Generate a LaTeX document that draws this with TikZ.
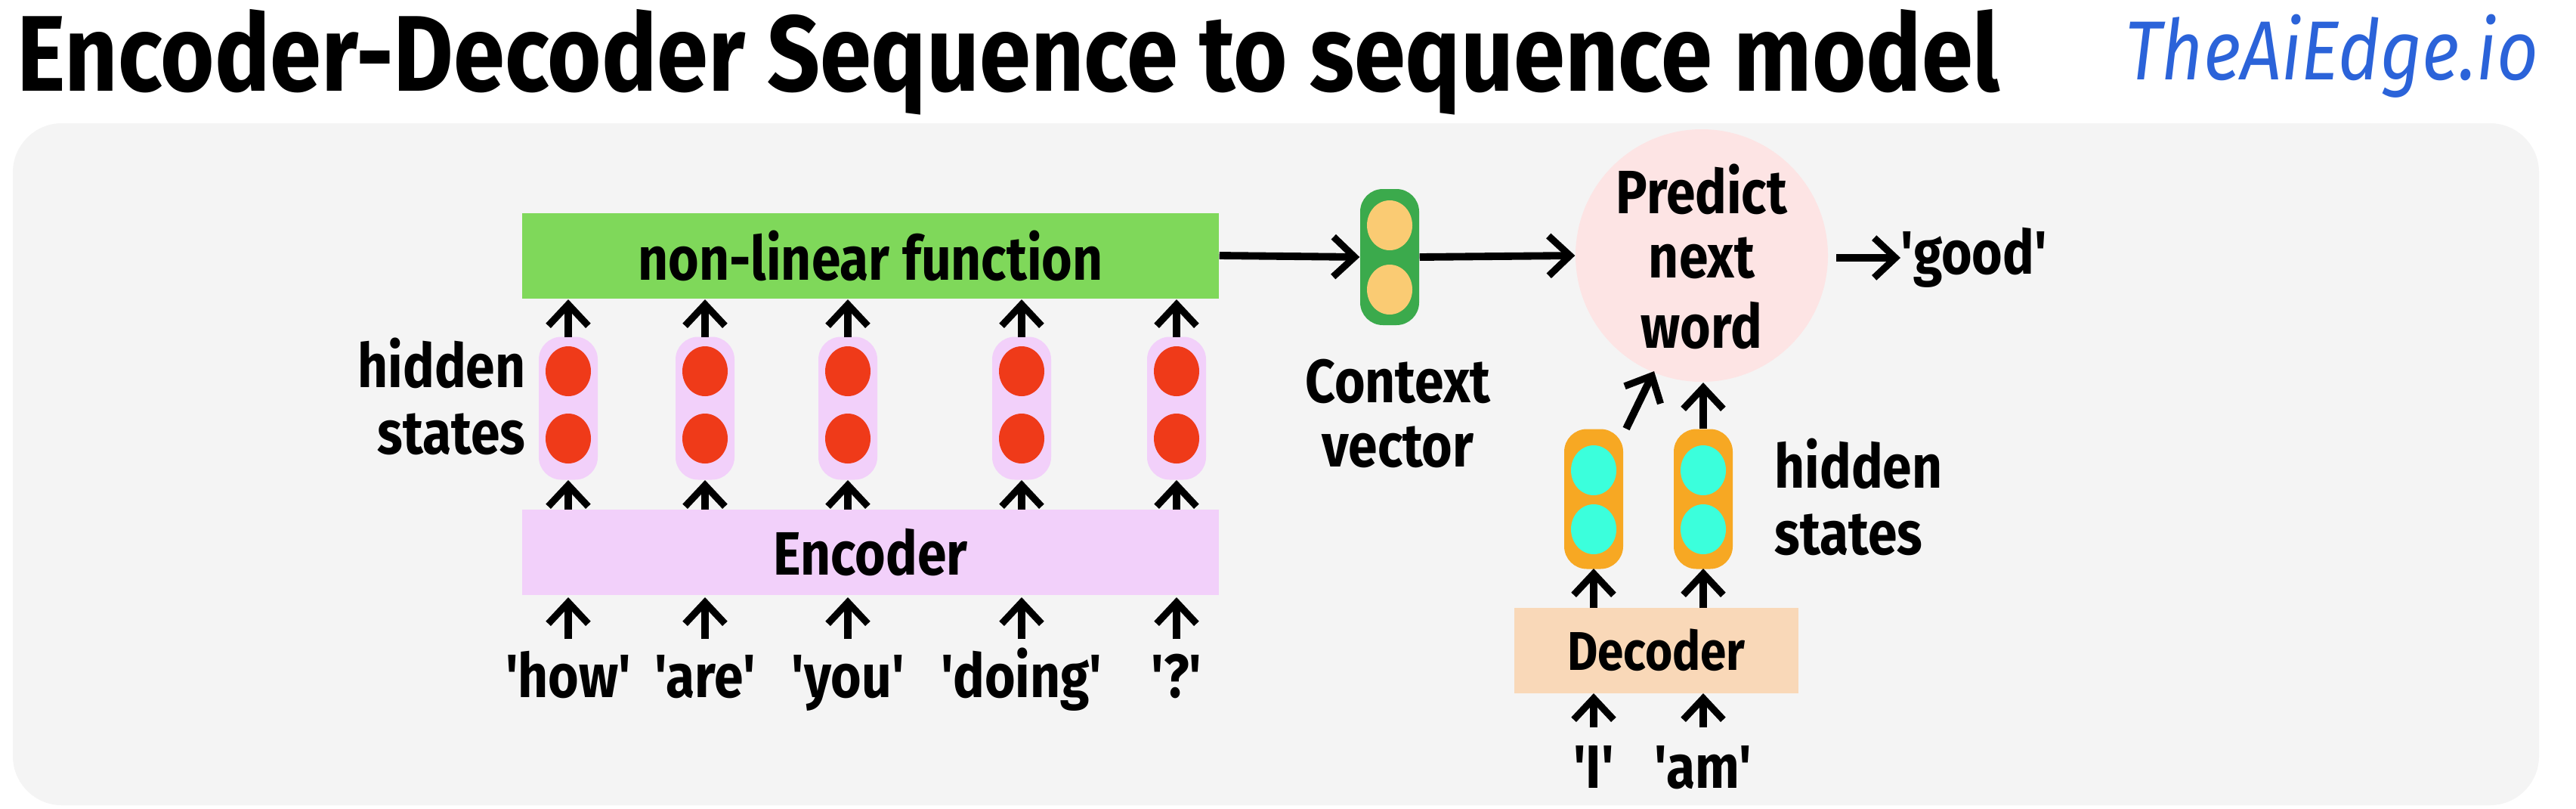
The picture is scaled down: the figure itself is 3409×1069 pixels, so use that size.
\documentclass[tikz,border=0pt]{standalone}
\usepackage{fontspec}
\setmainfont{Fira Sans}[FakeStretch=0.86, Ligatures=TeXOff]
\usetikzlibrary{arrows.meta,shapes.geometric}
\definecolor{panel}{HTML}{F4F4F4}
\definecolor{nlgreen}{HTML}{7FD85A}
\definecolor{encpink}{HTML}{F2D0FA}
\definecolor{hred}{HTML}{EF3A19}
\definecolor{cgreen}{HTML}{3BAA4C}
\definecolor{cyell}{HTML}{FACB73}
\definecolor{predpink}{HTML}{FDE4E4}
\definecolor{dorange}{HTML}{F7A823}
\definecolor{dcyan}{HTML}{3BFFDC}
\definecolor{decpeach}{HTML}{F9D8B8}
\definecolor{brand}{HTML}{2B63D9}
\tikzset{
  lbl/.style={font=\fontsize{23}{26}\selectfont\bfseries, inner sep=0pt},
  box/.style={draw=none, minimum height=113*0.01cm, inner sep=0pt, font=\fontsize{23}{26}\selectfont\bfseries},
  pill/.style={rounded corners=30*0.01cm, minimum width=78*0.01cm, minimum height=189*0.01cm, inner sep=0pt},
  dot/.style={ellipse, minimum width=60*0.01cm, minimum height=66*0.01cm, inner sep=0pt},
  arr/.style={line width=2.8pt, -{Straight Barb[length=8pt,width=15pt,line width=2.6pt]}},
}
\begin{document}
\begin{tikzpicture}[x=0.01cm,y=-0.01cm]
\useasboundingbox (0,0) rectangle (3409,1069);
\fill[white] (0,0) rectangle (3409,1069);
\fill[panel, rounded corners=65*0.01cm] (17,163) rectangle (3360,1065);
\node[anchor=base west, inner sep=0pt, font=\fontsize{40.5}{44}\selectfont\bfseries] (title) at (22,120) {Encoder-Decoder Sequence to sequence model};
\node[anchor=base east, inner sep=0pt, text=brand, font=\fontsize{31.5}{34}\selectfont\itshape] (brand) at (3360,105) {TheAiEdge.io};
% encoder side
\node[box, fill=nlgreen, minimum width=922*0.01cm] (nl) at (1152,338) {non-linear function};
\node[box, fill=encpink, minimum width=922*0.01cm] (enc) at (1152,730) {Encoder};
\foreach \i/\x/\w in {1/752/'how',2/933/'are',3/1122/'you',4/1352/'doing',5/1557/'?'}{
  \node[pill, fill=encpink] (p\i) at (\x,540) {};
  \node[dot, fill=hred] (a\i) at (\x,491) {};
  \node[dot, fill=hred] (b\i) at (\x,580) {};
  \node[lbl, anchor=base] (w\i) at (\x,922) {\w};
  \coordinate (s\i) at (\x,845);
  \coordinate (e\i) at (\x,790);
  \coordinate (et\i) at (\x,674);
  \coordinate (pt\i) at (\x,446);
  \coordinate (pb\i) at (\x,635);
  \coordinate (gb\i) at (\x,396);
  \draw[arr] (s\i) -- (e\i);
  \draw[arr] (et\i) -- (pb\i);
  \draw[arr] (pt\i) -- (gb\i);
}
\node[lbl, anchor=base east] (hs1) at (696,512) {hidden};
\node[lbl, anchor=base east] (hs2) at (696,600) {states};
% context vector
\node[pill, fill=cgreen, minimum height=180*0.01cm] (cv) at (1839,340) {};
\node[dot, fill=cyell] (c1) at (1839,298) {};
\node[dot, fill=cyell] (c2) at (1839,383) {};
\node[lbl] (cvl1) at (1850,504) {Context};
\node[lbl] (cvl2) at (1850,591) {vector};
\draw[arr] (nl.east) -- (cv.west);
% predict
\node[ellipse, fill=predpink, minimum width=334*0.01cm, minimum height=334*0.01cm, inner sep=0pt] (pred) at (2252,338) {};
\node[lbl] at (2252,250) {Predict};
\node[lbl] at (2252,341) {next};
\node[lbl] at (2252,430) {word};
\draw[arr] (cv.east) -- (pred.west);
\coordinate (gs) at (2430,341);
\node[lbl, anchor=west] (good) at (2515,341) {'good'};
\draw[arr] (gs) -- (good.west);
% decoder
\node[box, fill=decpeach, minimum width=376*0.01cm, font=\fontsize{20.5}{24}\selectfont\bfseries] (dec) at (2192,860) {Decoder};
\foreach \i/\x/\w in {1/2109/'I',2/2254/'am'}{
  \node[pill, fill=dorange, minimum height=185*0.01cm] (q\i) at (\x,660) {};
  \node[dot, fill=dcyan] (d\i) at (\x,622) {};
  \node[dot, fill=dcyan] (f\i) at (\x,700) {};
  \node[lbl, anchor=base] (v\i) at (\x,1042) {\w};
  \coordinate (vs\i) at (\x,962);
  \coordinate (dt\i) at (\x,917);
  \coordinate (db\i) at (\x,804);
  \coordinate (qb\i) at (\x,752);
  \draw[arr] (vs\i) -- (dt\i);
  \draw[arr] (db\i) -- (qb\i);
}
\coordinate (qt1) at (2152,567);
\coordinate (pe1) at (2189,491);
\coordinate (qt2) at (2254,567);
\coordinate (pe2) at (2254,506);
\draw[arr] (qt1) -- (pe1);
\draw[arr] (qt2) -- (pe2);
\node[lbl, anchor=base west] (hd1) at (2348,645) {hidden};
\node[lbl, anchor=base west] (hd2) at (2348,733) {states};
\end{tikzpicture}
\end{document}
